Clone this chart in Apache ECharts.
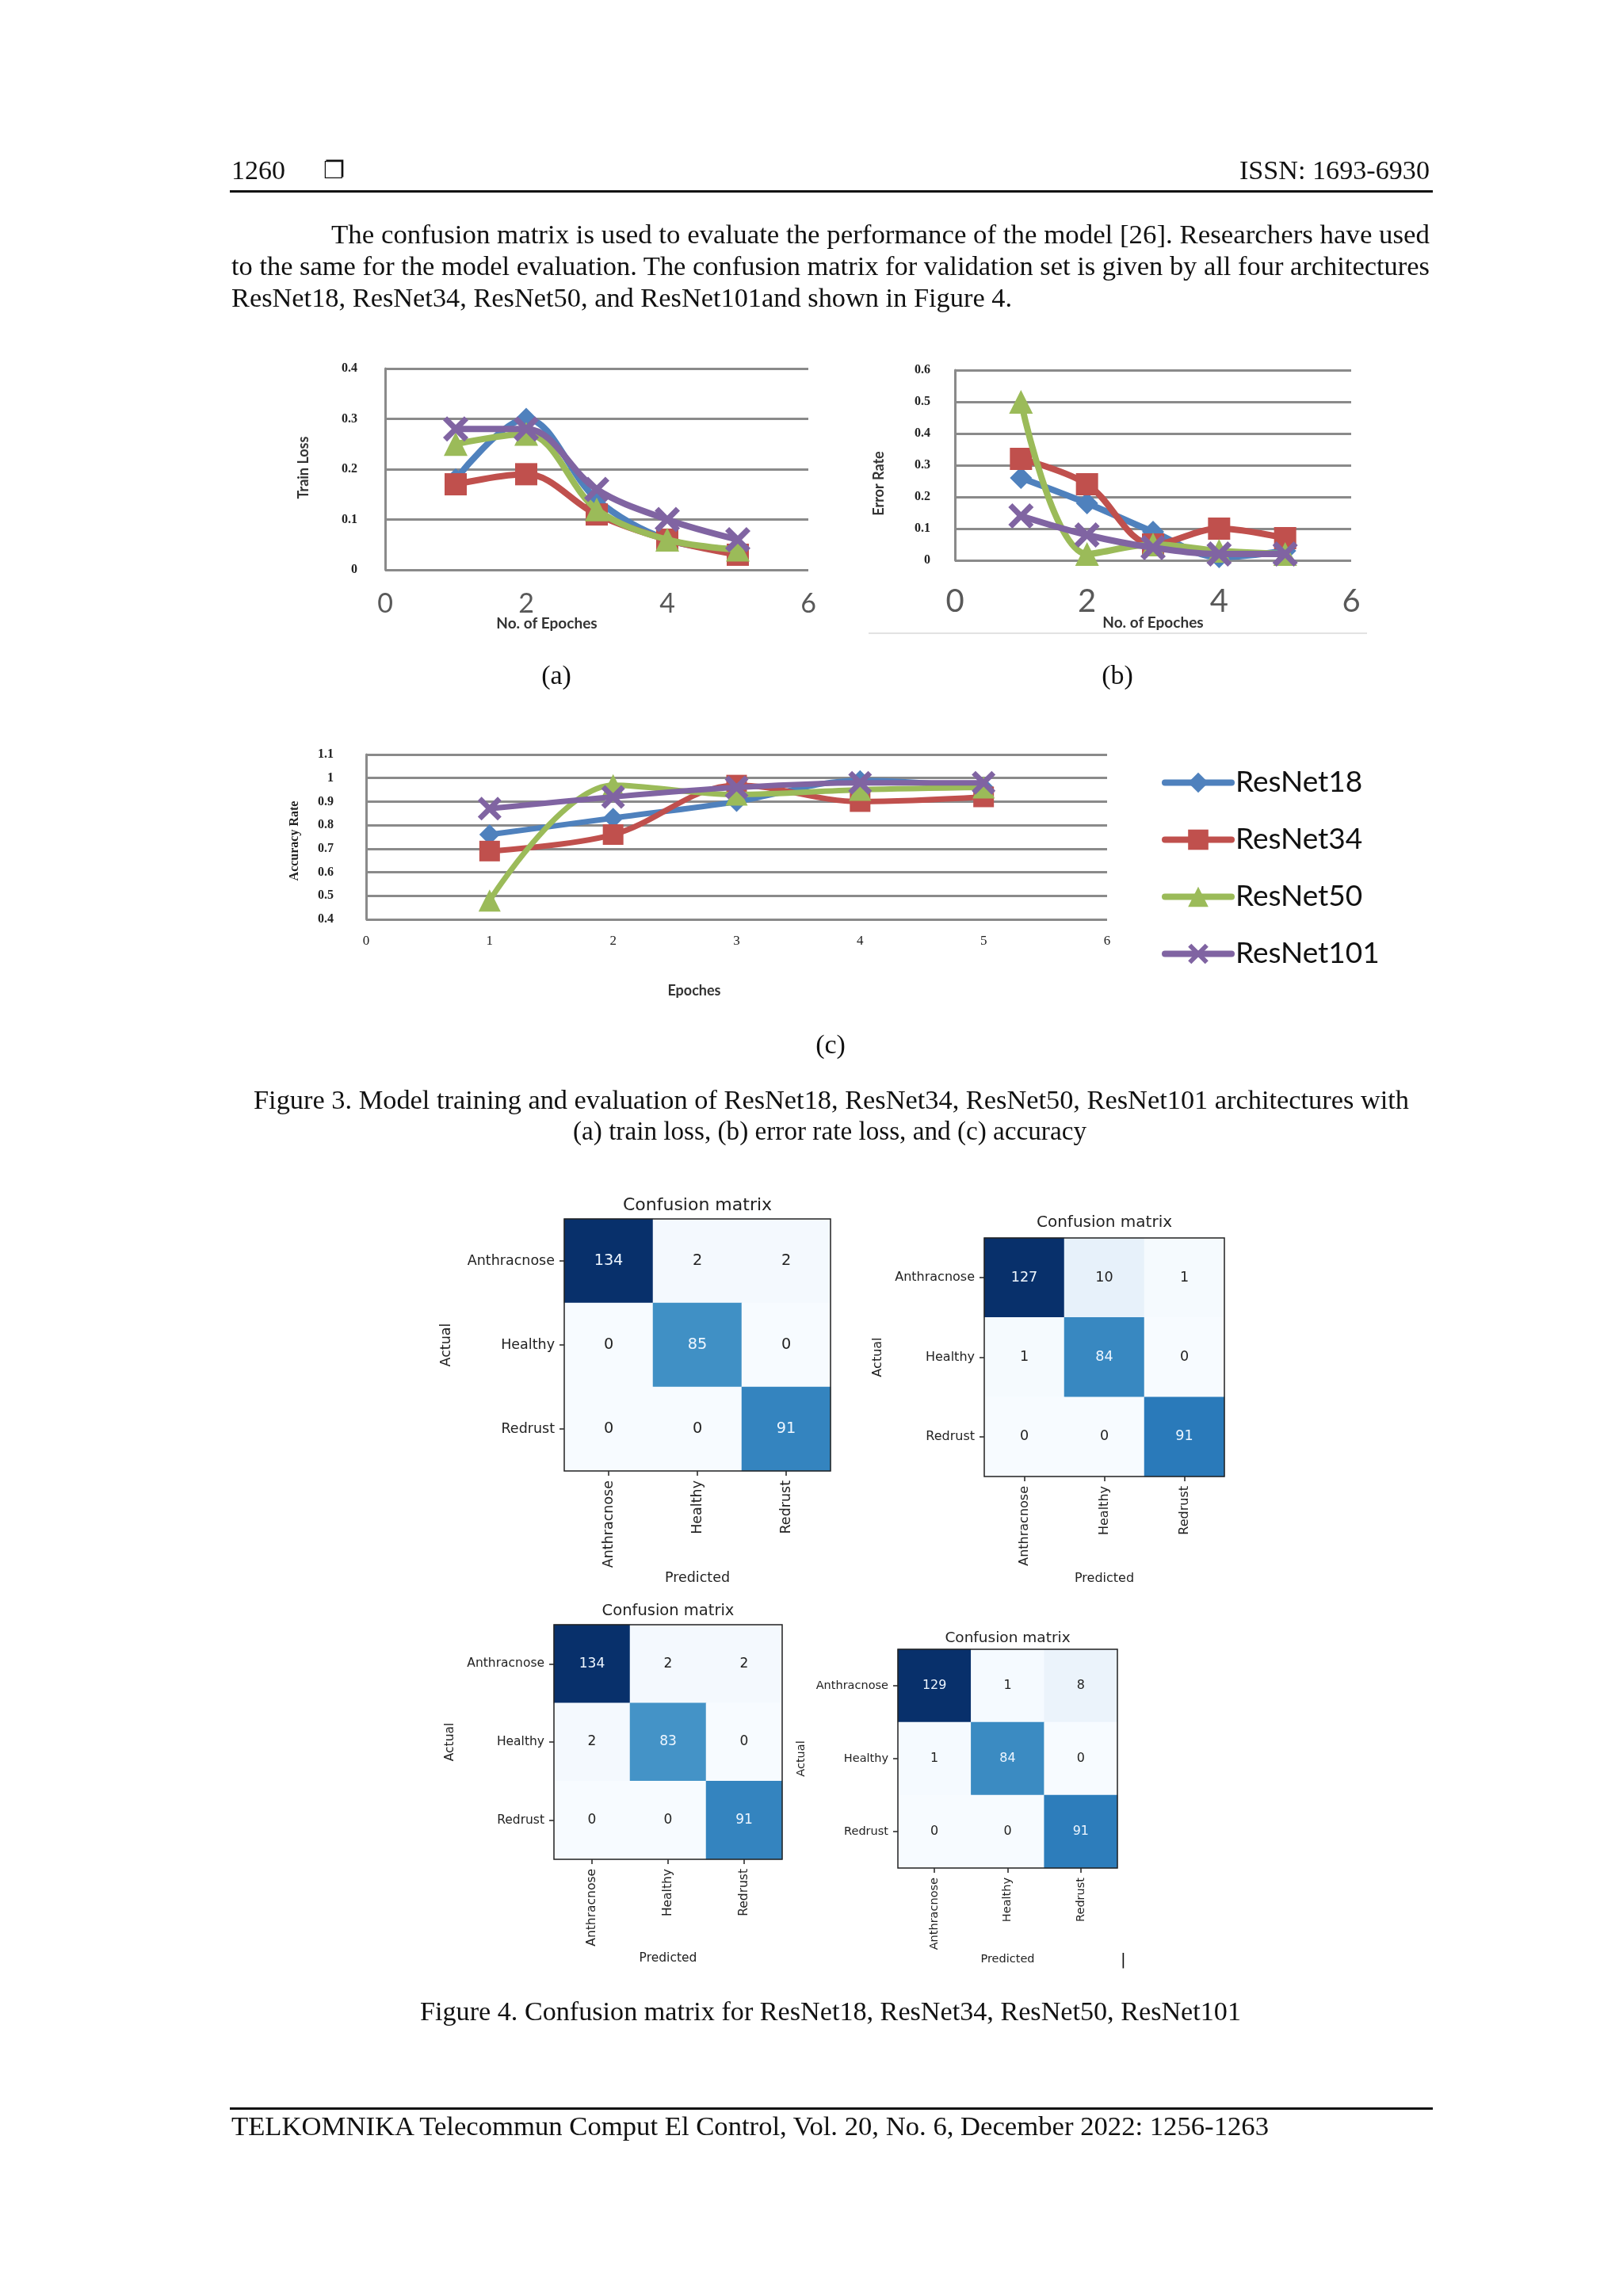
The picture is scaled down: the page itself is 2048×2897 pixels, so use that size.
<!DOCTYPE html>
<html><head><meta charset="utf-8">
<script src="https://cdn.jsdelivr.net/npm/echarts@6/dist/echarts.min.js"></script>
<style>
html,body{margin:0;padding:0;background:#fff;}
#page{position:relative;width:2048px;height:2897px;overflow:hidden;background:#fff;}
#chart{position:absolute;left:0;top:0;width:2048px;height:2897px;}
.t{position:absolute;font-family:"Liberation Serif","Times New Roman",serif;color:#111;white-space:nowrap;font-size:34px;line-height:34px;transform-origin:0 0;}
.rule{position:absolute;background:#111;}
</style></head>
<body><div id="page"><div id="chart"></div>
<div class="t fit" data-x="292" data-w="68" style="top:198px;">1260</div>
<div class="t" style="left:408px;top:198px;font-size:30px;font-family:'DejaVu Sans';">&#x2750;</div>
<div class="t fit" data-x="1564" data-w="240" style="top:198px;">ISSN: 1693-6930</div>
<div class="rule" style="left:290px;top:240px;width:1518px;height:3px;"></div>
<div class="t fit" data-x="418" data-w="1386" style="top:279px;">The confusion matrix is used to evaluate the performance of the model [26]. Researchers have used</div>
<div class="t fit" data-x="292" data-w="1512" style="top:319px;">to the same for the model evaluation. The confusion matrix for validation set is given by all four architectures</div>
<div class="t fit" data-x="292" data-w="985" style="top:359px;">ResNet18, ResNet34, ResNet50, and ResNet101and shown in Figure 4.</div>
<div class="t cen" data-c="702" style="top:835px;">(a)</div>
<div class="t cen" data-c="1410" style="top:835px;">(b)</div>
<div class="t cen" data-c="1048" style="top:1301px;">(c)</div>
<div class="t fit" data-x="320" data-w="1458" style="top:1371px;">Figure 3. Model training and evaluation of ResNet18, ResNet34, ResNet50, ResNet101 architectures with</div>
<div class="t fit" data-x="723" data-w="648" style="top:1410px;">(a) train loss, (b) error rate loss, and (c) accuracy</div>
<div class="t fit" data-x="530" data-w="1036" style="top:2521px;">Figure 4. Confusion matrix for ResNet18, ResNet34, ResNet50, ResNet101</div>
<div class="t" style="left:1414px;top:2460px;font-family:'DejaVu Sans';font-size:20px;line-height:24px;">|</div>
<div class="rule" style="left:290px;top:2659px;width:1518px;height:3px;"></div>
<div class="t fit" data-x="292" data-w="1309" style="top:2666px;">TELKOMNIKA Telecommun Comput El Control, Vol. 20, No. 6, December 2022: 1256-1263</div>
</div>
<script>
// ---------- data ----------
const epochs = [1, 2, 3, 4, 5];
const seriesNames = ['ResNet18', 'ResNet34', 'ResNet50', 'ResNet101'];

const trainLoss18  = [0.18, 0.30, 0.14, 0.06, 0.04];
const trainLoss34  = [0.17, 0.19, 0.11, 0.06, 0.03];
const trainLoss50  = [0.25, 0.27, 0.12, 0.06, 0.04];
const trainLoss101 = [0.28, 0.28, 0.16, 0.10, 0.06];

const errorRate18  = [0.26, 0.18, 0.09, 0.01, 0.03];
const errorRate34  = [0.32, 0.24, 0.05, 0.10, 0.07];
const errorRate50  = [0.50, 0.02, 0.05, 0.03, 0.02];
const errorRate101 = [0.14, 0.08, 0.04, 0.02, 0.02];

const accuracy18  = [0.76, 0.83, 0.90, 0.99, 0.96];
const accuracy34  = [0.69, 0.76, 0.97, 0.90, 0.92];
const accuracy50  = [0.48, 0.97, 0.93, 0.95, 0.96];
const accuracy101 = [0.87, 0.92, 0.96, 0.98, 0.98];

const classes = ['Anthracnose', 'Healthy', 'Redrust'];
const cmResNet18  = [[134, 2, 2], [0, 85, 0], [0, 0, 91]];
const cmResNet34  = [[127, 10, 1], [1, 84, 0], [0, 0, 91]];
const cmResNet50  = [[134, 2, 2], [2, 83, 0], [0, 0, 91]];
const cmResNet101 = [[129, 1, 8], [1, 84, 0], [0, 0, 91]];

// ---------- text fitting (page text) ----------
document.querySelectorAll('.fit').forEach(el => {
  el.style.left = el.dataset.x + 'px';
  const w = el.getBoundingClientRect().width;
  el.style.transform = 'scaleX(' + (parseFloat(el.dataset.w) / w) + ')';
});
document.querySelectorAll('.cen').forEach(el => {
  const w = el.getBoundingClientRect().width;
  el.style.left = (parseFloat(el.dataset.c) - w / 2) + 'px';
});

// ---------- styles ----------
const COLORS = ['#4F81BD', '#C0504D', '#9BBB59', '#8064A2'];
const XMARK = 'path://M0,1.6L1.6,0L5,3.4L8.4,0L10,1.6L6.6,5L10,8.4L8.4,10L5,6.6L1.6,10L0,8.4L3.4,5Z';
const SYMBOLS = ['diamond', 'rect', 'triangle', XMARK];
const SIZES = [28, 28, 30, 32];
const BLUES = ['#f7fbff','#deebf7','#c6dbef','#9ecae1','#6baed6','#4292c6','#2171b5','#08519c','#08306b'];
const GRIDC = '#8a8a8a';

const lineCharts = [
  {grid:{left:486, top:465, width:534, height:254}, data:[trainLoss18, trainLoss34, trainLoss50, trainLoss101],
   ymin:0, ymax:0.4, yint:0.1, xint:2, xfont:{fontFamily:'Lato', fontSize:34, color:'#595959', margin:26},
   ylabMargin:35, lw:8},
  {grid:{left:1205, top:467, width:500, height:240}, data:[errorRate18, errorRate34, errorRate50, errorRate101],
   ymin:0, ymax:0.6, yint:0.1, xint:2, xfont:{fontFamily:'Lato', fontSize:40, color:'#595959', margin:32},
   ylabMargin:31, lw:8},
  {grid:{left:462, top:952, width:935, height:208}, data:[accuracy18, accuracy34, accuracy50, accuracy101],
   ymin:0.4, ymax:1.1, yint:0.1, xint:1, xfont:{fontFamily:'Liberation Serif', fontSize:17, color:'#222', margin:19},
   ylabMargin:41, lw:7}
];

const cms = [
  {m:cmResNet18,  grid:{left:712, top:1538, width:336, height:318}, font:17.5, tfont:22,   ty:1521, gapY:140, gapX:126},
  {m:cmResNet34,  grid:{left:1242, top:1562, width:303, height:301}, font:16,  tfont:20,   ty:1543, gapY:126, gapX:121},
  {m:cmResNet50,  grid:{left:699, top:2050, width:288, height:296}, font:15.5, tfont:19.5, ty:2033, gapY:123, gapX:117},
  {m:cmResNet101, grid:{left:1133, top:2081, width:277, height:276}, font:14.5, tfont:18.5, ty:2067, gapY:114, gapX:107}
];

// ---------- build option ----------
const grids = [], xAxes = [], yAxes = [], series = [], visualMaps = [], graphics = [];

lineCharts.forEach((lc, gi) => {
  grids.push(Object.assign({containLabel:false}, lc.grid));
  xAxes.push({type:'value', gridIndex:gi, min:0, max:6, interval:lc.xint,
    axisLine:{show:false}, axisTick:{show:false}, splitLine:{show:false},
    axisLabel:lc.xfont});
  yAxes.push({type:'value', gridIndex:gi, min:lc.ymin, max:lc.ymax, interval:lc.yint,
    axisLine:{show:true, lineStyle:{color:GRIDC, width:3}}, axisTick:{show:false},
    splitLine:{show:true, lineStyle:{color:GRIDC, width:3}},
    axisLabel:{fontFamily:'Liberation Serif', fontWeight:'bold', fontSize:16, color:'#222', margin:lc.ylabMargin}});
  lc.data.forEach((vals, si) => {
    series.push({type:'line', name:seriesNames[si], xAxisIndex:gi, yAxisIndex:gi,
      data: epochs.map((e, i) => [e, vals[i]]), smooth:0.35,
      symbol:SYMBOLS[si], symbolSize:SIZES[si] - (gi === 2 ? 2 : 0),
      lineStyle:{width:lc.lw, color:COLORS[si], cap:'round', join:'round'},
      itemStyle:{color:COLORS[si]}, emphasis:{disabled:true}, z:2 + si});
  });
});

cms.forEach((cm, k) => {
  const gi = 3 + k;
  const mx = Math.max(...cm.m.flat());
  grids.push(Object.assign({show:true, z:5, borderColor:'#222', borderWidth:1.5, backgroundColor:'rgba(0,0,0,0)'}, cm.grid));
  xAxes.push({type:'category', gridIndex:gi, data:classes, name:'Predicted', nameLocation:'middle', nameGap:cm.gapX,
    nameTextStyle:{fontFamily:'DejaVu Sans', fontSize:cm.font, color:'#222'},
    axisLine:{show:false}, axisTick:{show:true, alignWithLabel:true, length:6, lineStyle:{color:'#222', width:1.5}},
    splitLine:{show:false}, axisLabel:{rotate:90, fontFamily:'DejaVu Sans', fontSize:cm.font, color:'#222', margin:12}});
  yAxes.push({type:'category', gridIndex:gi, data:classes, inverse:true, name:'Actual', nameLocation:'middle', nameGap:cm.gapY,
    nameTextStyle:{fontFamily:'DejaVu Sans', fontSize:cm.font, color:'#222'},
    axisLine:{show:false}, axisTick:{show:true, alignWithLabel:true, length:6, lineStyle:{color:'#222', width:1.5}},
    splitLine:{show:false}, axisLabel:{fontFamily:'DejaVu Sans', fontSize:cm.font, color:'#222', margin:12}});
  const data = [];
  cm.m.forEach((row, r) => row.forEach((v, c) => {
    data.push({value:[c, r, v], label:{color: v > mx / 2 ? '#eef6ff' : '#222'}});
  }));
  visualMaps.push({type:'continuous', show:false, seriesIndex:12 + k, dimension:2, min:0, max:mx, inRange:{color:BLUES}});
  series.push({type:'heatmap', name:'cm' + k, xAxisIndex:gi, yAxisIndex:gi, data,
    label:{show:true, fontFamily:'DejaVu Sans', fontSize:cm.font * 1.1}, itemStyle:{borderWidth:0},
    emphasis:{disabled:true}, z:1});
  graphics.push({type:'text', x:cm.grid.left + cm.grid.width / 2, y:cm.ty,
    style:{text:'Confusion matrix', font:cm.tfont + 'px "DejaVu Sans"', fill:'#222', align:'center', verticalAlign:'middle'}});
});

// axis titles for the line charts
graphics.push(
  {type:'text', x:690, y:787, style:{text:'No. of Epoches', font:'bold 19px Lato', fill:'#333', align:'center', verticalAlign:'middle'}},
  {type:'text', x:383, y:590, rotation:Math.PI / 2, style:{text:'Train Loss', font:'bold 18px Lato', fill:'#333', align:'center', verticalAlign:'middle'}},
  {type:'text', x:1455, y:786, style:{text:'No. of Epoches', font:'bold 19px Lato', fill:'#333', align:'center', verticalAlign:'middle'}},
  {type:'text', x:1109, y:610, rotation:Math.PI / 2, style:{text:'Error Rate', font:'bold 18px Lato', fill:'#333', align:'center', verticalAlign:'middle'}},
  {type:'text', x:876, y:1250, style:{text:'Epoches', font:'bold 18px Lato', fill:'#333', align:'center', verticalAlign:'middle'}},
  {type:'text', x:372, y:1061, rotation:Math.PI / 2, style:{text:'Accuracy Rate', font:'bold 16px "Liberation Serif"', fill:'#222', align:'center', verticalAlign:'middle'}},
  {type:'line', shape:{x1:1096, y1:799, x2:1725, y2:799}, style:{stroke:'#e2e2e2', lineWidth:2}}
);

const option = {
  animation:false,
  backgroundColor:'transparent',
  grid:grids, xAxis:xAxes, yAxis:yAxes, series, visualMap:visualMaps, graphic:graphics,
  legend:{data:seriesNames, orient:'vertical', left:1461, top:964, itemWidth:84, itemHeight:32, itemGap:35,
    selectedMode:false, lineStyle:{width:8, cap:'round'},
    textStyle:{fontFamily:'Lato', fontSize:37, color:'#111'}}
};
const chart = echarts.init(document.getElementById('chart'), null, {renderer:'canvas'});
chart.setOption(option);
</script>
</body></html>
